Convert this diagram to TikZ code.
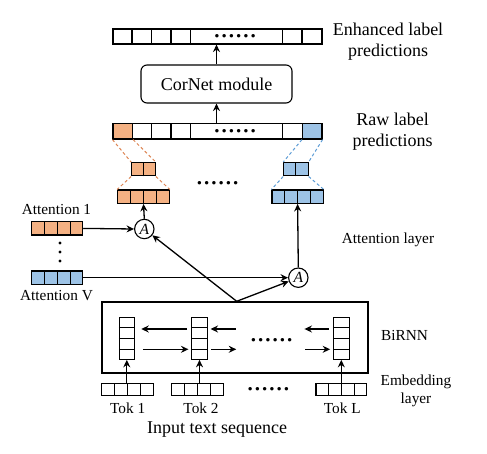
\documentclass[tikz,border=0pt]{standalone}
\usepackage{fontspec}
\setmainfont{Liberation Serif}
\usetikzlibrary{calc,arrows.meta}
\definecolor{orng}{HTML}{F4B183}
\definecolor{blu}{HTML}{9DC3E6}
\definecolor{orngline}{HTML}{DD8452}
\definecolor{bluline}{HTML}{5B9BD5}
\tikzset{
  vec/.style={draw, line width=1.1pt, inner sep=0pt},
  arr/.style={-{Stealth[length=7.5pt,width=7pt,inset=2.5pt]}, line width=1.3pt},
  big/.style={font=\fontsize{18}{21}\selectfont, align=center, inner sep=0pt},
  small/.style={font=\fontsize{15.3}{18}\selectfont, align=center, inner sep=0pt},
  hdots/.style={font=\fontsize{29}{29}\selectfont, inner sep=0pt},
  attn/.style={draw, circle, line width=1.1pt, inner sep=0pt, minimum size=19.4pt, font=\fontsize{15.5}{15.5}\selectfont\itshape},
  orngdash/.style={dashed, dash pattern=on 3pt off 2.5pt, orngline, line width=1pt},
  bludash/.style={dashed, dash pattern=on 3pt off 2.5pt, bluline, line width=1pt}
}
% dividers of a vector node: name, number of cells
\newcommand{\rowcells}[2]{%
  \foreach \k [evaluate=\k as \f using (\k-1)/#2] in {2,...,#2}{%
    \draw[line width=1.1pt] ($(#1.south west)!\f!(#1.south east)$) -- ($(#1.north west)!\f!(#1.north east)$);}}
\newcommand{\colcells}[2]{%
  \foreach \k [evaluate=\k as \f using (\k-1)/#2] in {2,...,#2}{%
    \draw[line width=1.1pt] ($(#1.north west)!\f!(#1.south west)$) -- ($(#1.north east)!\f!(#1.south east)$);}}

\begin{document}
\begin{tikzpicture}[x=1pt,y=-1pt]
  \useasboundingbox (0,0) rectangle (487,454);

  % label predictions and CorNet
  \node[vec, minimum width=209pt, minimum height=15pt] (enh) at (217.5,36.5) {};
  \foreach \x in {19.5,39,58.5,78,170,189.5}{%
    \draw[line width=1.1pt] ([xshift=\x pt]enh.south west) -- ([xshift=\x pt]enh.north west);}
  \node[hdots] (enhdots) at (235,36.5) {......};
  \node[draw, rounded corners=6pt, line width=1.1pt, minimum width=151pt, minimum height=38pt, big] (cornet) at (216.5,84) {CorNet module};

  \node[vec, minimum width=209pt, minimum height=15.5pt] (raw) at (217.5,131.3) {};
  \node[vec, fill=orng, minimum width=19.5pt, minimum height=15.5pt, anchor=south west] (rawfirst) at (raw.south west) {};
  \node[vec, fill=blu, minimum width=19.5pt, minimum height=15.5pt, anchor=south east] (rawlast) at (raw.south east) {};
  \foreach \x in {39,58.5,78,170}{%
    \draw[line width=1.1pt] ([xshift=\x pt]raw.south west) -- ([xshift=\x pt]raw.north west);}
  \node[hdots] (rawdots) at (235,131.3) {......};

  \draw[arr] (cornet.south |- raw.north) -- (cornet.south);
  \draw[arr] (cornet.north) -- (cornet.north |- enh.south);

  \node[big] (enhlbl) at (388,42) {Enhanced label\\predictions};
  \node[big] (rawlbl) at (392.7,132) {Raw label\\predictions};

  % per-label attention outputs
  \node[vec, fill=orng, minimum width=23.6pt, minimum height=13.3pt] (osmall) at (143.5,169.3) {};
  \rowcells{osmall}{2}
  \node[vec, fill=orng, minimum width=51.6pt, minimum height=13.3pt] (obig) at (143.5,196.7) {};
  \rowcells{obig}{4}
  \node[vec, fill=blu, minimum width=24.3pt, minimum height=13.3pt] (bsmall) at (295.9,169.3) {};
  \rowcells{bsmall}{2}
  \node[vec, fill=blu, minimum width=51.3pt, minimum height=13.3pt] (bbig) at (297.6,196.7) {};
  \rowcells{bbig}{4}
  \node[hdots] (middots) at (217.5,183) {......};

  \draw[orngdash] (rawfirst.south west) -- (osmall.north west);
  \draw[orngdash] (rawfirst.south east) -- (osmall.north east);
  \draw[orngdash] (osmall.south west) -- (obig.north west);
  \draw[orngdash] (osmall.south east) -- (obig.north east);
  \draw[bludash] (rawlast.south west) -- (bsmall.north west);
  \draw[bludash] (rawlast.south east) -- (bsmall.north east);
  \draw[bludash] (bsmall.south west) -- (bbig.north west);
  \draw[bludash] (bsmall.south east) -- (bbig.north east);

  % attention layer
  \node[attn] (A1) at (144.3,229) {A};
  \node[attn] (A2) at (298.3,277.7) {A};
  \node[vec, fill=orng, minimum width=51pt, minimum height=13.3pt] (att1) at (57.2,228.4) {};
  \rowcells{att1}{4}
  \node[vec, fill=blu, minimum width=51pt, minimum height=13.3pt] (attV) at (57.2,277.7) {};
  \rowcells{attV}{4}
  \foreach \y in {243,252,261}{%
    \fill (60,\y) circle (1.6pt);}
  \node[small] (att1lbl) at (56.5,210) {Attention 1};
  \node[small] (attVlbl) at (56.5,296) {Attention V};
  \node[small] (attlbl) at (388,240) {Attention layer};

  \draw[arr] (A1.north) -- (obig.south);
  \draw[arr] (A2.north) -- (bbig.south);
  \draw[arr] (att1.east) -- (A1.west);
  \draw[arr] (attV.east) -- (A2.west);

  % BiRNN
  \node[draw, line width=2pt, minimum width=266.6pt, minimum height=70.4pt] (birnn) at (235,337.5) {};
  \coordinate (hub) at ([xshift=1.7pt]birnn.north);
  \draw[arr] (hub) -- (A1);
  \draw[arr] (hub) -- (A2);

  \node[vec, minimum width=15pt, minimum height=42pt] (r1) at (126.8,338.3) {};
  \colcells{r1}{4}
  \node[vec, minimum width=15.6pt, minimum height=42pt] (r2) at (199.5,338.3) {};
  \colcells{r2}{4}
  \node[vec, minimum width=16pt, minimum height=42pt] (rL) at (341.3,338.3) {};
  \colcells{rL}{4}
  \node[hdots] (rnndots) at (271.5,340) {......};

  \draw[arr] ([xshift=-4pt,yshift=9.3pt]r2.west) -- ([xshift=6.4pt,yshift=9.3pt]r1.east);
  \draw[arr] ([xshift=8pt,yshift=-11pt]r1.east) -- ([xshift=-2.7pt,yshift=-11pt]r2.west);
  \draw[arr] ([xshift=27.7pt,yshift=9.3pt]r2.east) -- ([xshift=2.7pt,yshift=9.3pt]r2.east);
  \draw[arr] ([xshift=3.4pt,yshift=-11pt]r2.east) -- ([xshift=28.4pt,yshift=-11pt]r2.east);
  \draw[arr] ([xshift=-4pt,yshift=9.3pt]rL.west) -- ([xshift=-28.3pt,yshift=9.3pt]rL.west);
  \draw[arr] ([xshift=-27.3pt,yshift=-11pt]rL.west) -- ([xshift=-2.6pt,yshift=-11pt]rL.west);
  \node[small] (rnnlbl) at (404.5,335) {BiRNN};

  % embedding layer
  \node[vec, minimum width=51.6pt, minimum height=11.7pt] (t1) at (127.5,389.2) {};
  \rowcells{t1}{4}
  \node[vec, minimum width=51.6pt, minimum height=11.7pt] (t2) at (197.5,389.2) {};
  \rowcells{t2}{4}
  \node[vec, minimum width=50.7pt, minimum height=11.7pt] (tL) at (341.3,389.2) {};
  \rowcells{tL}{4}
  \node[hdots] (tokdots) at (268.3,389) {......};
  \draw[arr] (r1.south |- t1.north) -- (r1.south);
  \draw[arr] (r2.south |- t2.north) -- (r2.south);
  \draw[arr] (rL.south |- tL.north) -- (rL.south);

  \node[small] (t1lbl) at (127.7,408.3) {Tok 1};
  \node[small] (t2lbl) at (201,408.3) {Tok 2};
  \node[small] (tLlbl) at (342.3,408.3) {Tok L};
  \node[big] (inputlbl) at (217,429.5) {Input text sequence};
  \node[small] (emblbl) at (416,391) {Embedding\\layer};
\end{tikzpicture}
\end{document}
